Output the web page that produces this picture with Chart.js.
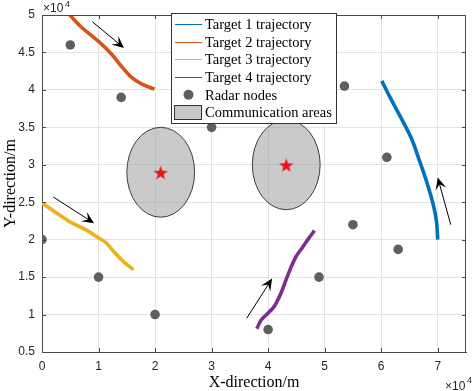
<!DOCTYPE html>
<html>
<head>
<meta charset="utf-8">
<script src="https://cdn.jsdelivr.net/npm/chart.js@4.4.1/dist/chart.umd.min.js"></script>
<style>
  body { margin: 0; background: #fff; }
  #wrap { width: 474px; height: 391px; }
</style>
</head>
<body>
<div id="wrap"><canvas id="chart" width="474" height="391"></canvas></div>
<script>
// values are in units of 10^4 m
var xTicks = [0, 1, 2, 3, 4, 5, 6, 7];
var yTicks = [0.5, 1, 1.5, 2, 2.5, 3, 3.5, 4, 4.5, 5];

var target1 = [[6.01, 4.12], [6.15, 3.91], [6.32, 3.67], [6.53, 3.36], [6.67, 3.07], [6.81, 2.76], [6.93, 2.44], [6.98, 2.23], [7.0, 2.0]];
var target2 = [[0.49, 5.0], [0.71, 4.83], [1.01, 4.64], [1.24, 4.47], [1.41, 4.31], [1.58, 4.17], [1.76, 4.08], [1.99, 4.01]];
var target3 = [[0, 2.49], [0.23, 2.37], [0.49, 2.24], [0.78, 2.13], [1.01, 2.02], [1.13, 1.96], [1.27, 1.84], [1.45, 1.70], [1.62, 1.6]];
var target4 = [[3.8, 0.81], [3.88, 0.93], [4.0, 1.02], [4.11, 1.11], [4.23, 1.29], [4.35, 1.53], [4.49, 1.77], [4.61, 1.9], [4.72, 2.02], [4.82, 2.12]];

var radarNodes = [[0.5, 4.6], [1.4, 3.9], [3.0, 3.5], [0, 2.0], [1.0, 1.5], [2.0, 1.0], [4.0, 0.8], [4.9, 1.5], [5.35, 4.05], [6.1, 3.1], [5.5, 2.2], [6.3, 1.87]];

var areaCenters = [[2.1, 2.9], [4.32, 3.0]];
var areaRadius = [0.6, 0.6];

// arrows: [x0, y0, x1, y1]
var arrows = [[0.89, 4.91, 1.45, 4.56], [0.2, 2.57, 0.92, 2.22], [3.62, 0.95, 4.07, 1.48], [7.23, 2.2, 7.0, 2.83]];

var legendLabels = ['Target 1 trajectory', 'Target 2 trajectory', 'Target 3 trajectory', 'Target 4 trajectory', 'Radar nodes', 'Communication areas'];
var targetColors = ['#0072BD', '#D95319', '#EDB120', '#7E2F8E'];

function pts(arr) {
  return arr.map(function(p){ return {x: p[0], y: p[1]}; });
}

// filled five point star used as point style
function makeStar(size, color) {
  var c = document.createElement('canvas');
  c.width = size; c.height = size;
  var g = c.getContext('2d');
  var r = size / 2, ri = r * 0.4;
  g.beginPath();
  for (var i = 0; i < 10; i++) {
    var rad = (i % 2 === 0) ? r : ri;
    var a = -Math.PI / 2 + i * Math.PI / 5;
    var px = r + rad * Math.cos(a), py = r + 1 + rad * Math.sin(a);
    if (i === 0) g.moveTo(px, py); else g.lineTo(px, py);
  }
  g.closePath();
  g.fillStyle = color;
  g.fill();
  return c;
}
var star = makeStar(15, '#E8141B');

var AXIS = '#4a4a4a';
var SERIF = '"Liberation Serif", "Times New Roman", serif';
var SANS = '"Liberation Sans", Arial, sans-serif';

var areasPlugin = {
  id: 'areas',
  beforeDatasetsDraw: function(chart) {
    var ctx = chart.ctx, xs = chart.scales.x, ys = chart.scales.y;
    ctx.save();
    areaCenters.forEach(function(c, i) {
      var cx = xs.getPixelForValue(c[0]), cy = ys.getPixelForValue(c[1]);
      var rx = xs.getPixelForValue(c[0] + areaRadius[i]) - cx;
      var ry = cy - ys.getPixelForValue(c[1] + areaRadius[i]);
      ctx.beginPath();
      ctx.ellipse(cx, cy, rx, ry, 0, 0, Math.PI * 2);
      ctx.fillStyle = 'rgba(160,158,158,0.55)';
      ctx.fill();
      ctx.lineWidth = 1;
      ctx.strokeStyle = '#3c3c3c';
      ctx.stroke();
    });
    ctx.restore();
  },
  afterDatasetsDraw: function(chart) {
    var ctx = chart.ctx, xs = chart.scales.x, ys = chart.scales.y;
    ctx.save();
    ctx.strokeStyle = '#000';
    ctx.fillStyle = '#000';
    ctx.lineWidth = 1;
    arrows.forEach(function(a) {
      var x0 = xs.getPixelForValue(a[0]), y0 = ys.getPixelForValue(a[1]);
      var x1 = xs.getPixelForValue(a[2]), y1 = ys.getPixelForValue(a[3]);
      var ang = Math.atan2(y1 - y0, x1 - x0);
      var L = 12, W = 5.5;
      ctx.beginPath();
      ctx.moveTo(x0, y0);
      ctx.lineTo(x1 - Math.cos(ang) * 6, y1 - Math.sin(ang) * 6);
      ctx.stroke();
      ctx.beginPath();
      ctx.moveTo(x1, y1);
      ctx.lineTo(x1 - L * Math.cos(ang) + W * Math.sin(ang), y1 - L * Math.sin(ang) - W * Math.cos(ang));
      ctx.lineTo(x1 - 7 * Math.cos(ang), y1 - 7 * Math.sin(ang));
      ctx.lineTo(x1 - L * Math.cos(ang) - W * Math.sin(ang), y1 - L * Math.sin(ang) + W * Math.cos(ang));
      ctx.closePath();
      ctx.fill();
    });
    ctx.restore();
  },
  afterDraw: function(chart) {
    var ctx = chart.ctx, a = chart.chartArea, xs = chart.scales.x, ys = chart.scales.y;
    ctx.save();
    // box and inward ticks
    ctx.strokeStyle = AXIS;
    ctx.lineWidth = 1;
    ctx.beginPath();
    ctx.moveTo(a.left, a.top + 0.5); ctx.lineTo(a.right, a.top + 0.5);
    ctx.moveTo(a.right - 0.5, a.top); ctx.lineTo(a.right - 0.5, a.bottom);
    xTicks.forEach(function(v) {
      var px = Math.round(xs.getPixelForValue(v)) + 0.5;
      ctx.moveTo(px, a.bottom); ctx.lineTo(px, a.bottom - 4);
      ctx.moveTo(px, a.top); ctx.lineTo(px, a.top + 4);
    });
    yTicks.forEach(function(v) {
      var py = Math.round(ys.getPixelForValue(v)) + 0.5;
      ctx.moveTo(a.left, py); ctx.lineTo(a.left + 4, py);
      ctx.moveTo(a.right, py); ctx.lineTo(a.right - 4, py);
    });
    ctx.stroke();

    // exponent labels
    ctx.fillStyle = '#262626';
    ctx.textBaseline = 'alphabetic';
    ctx.textAlign = 'left';
    ctx.font = '12px ' + SANS;
    ctx.fillText('\u00d710', a.left + 1, 12);
    ctx.fillText('\u00d710', 445, 390);
    ctx.font = '9px ' + SANS;
    ctx.fillText('4', a.left + 23, 7);
    ctx.fillText('4', 467, 383);

    // axis titles
    ctx.fillStyle = '#000';
    ctx.font = '16px ' + SERIF;
    ctx.textAlign = 'center';
    ctx.textBaseline = 'middle';
    ctx.fillText('X-direction/m', (a.left + a.right) / 2, 383);
    ctx.translate(11, (a.top + a.bottom) / 2);
    ctx.rotate(-Math.PI / 2);
    ctx.fillText('Y-direction/m', 0, 0);
    ctx.restore();

    // legend
    ctx.save();
    var bx = 171, by = 13, bw = 165, bh = 110, rowH = 17.7;
    ctx.fillStyle = '#fff';
    ctx.fillRect(bx, by, bw, bh);
    ctx.strokeStyle = '#333';
    ctx.lineWidth = 1;
    ctx.strokeRect(bx + 0.5, by + 0.5, bw, bh);
    ctx.font = '14.5px ' + SERIF;
    ctx.textAlign = 'left';
    ctx.textBaseline = 'middle';
    legendLabels.forEach(function(label, i) {
      var cy = by + 11 + i * rowH;
      if (i < 4) {
        ctx.strokeStyle = targetColors[i];
        ctx.lineWidth = 1;
        ctx.beginPath();
        ctx.moveTo(175, Math.round(cy) + 0.5); ctx.lineTo(202, Math.round(cy) + 0.5);
        ctx.stroke();
      } else if (i === 4) {
        ctx.fillStyle = '#5f5f5f';
        ctx.beginPath();
        ctx.arc(188.5, cy, 5, 0, Math.PI * 2);
        ctx.fill();
      } else {
        ctx.fillStyle = '#c9c8c8';
        ctx.fillRect(174.5, cy - 7, 27, 14);
        ctx.strokeStyle = '#333';
        ctx.strokeRect(174.5, cy - 7, 27, 14);
      }
      ctx.fillStyle = '#000';
      ctx.fillText(label, 205, cy + 1);
    });
    ctx.restore();
  }
};

var lineSet = function(data, color) {
  return {
    data: pts(data), showLine: true, borderColor: color, backgroundColor: color,
    borderWidth: 3.6, pointRadius: 0, tension: 0.35, borderCapStyle: 'butt', borderJoinStyle: 'round'
  };
};

new Chart(document.getElementById('chart'), {
  type: 'scatter',
  data: {
    datasets: [
      lineSet(target1, targetColors[0]),
      lineSet(target2, targetColors[1]),
      lineSet(target3, targetColors[2]),
      lineSet(target4, targetColors[3]),
      { data: pts(radarNodes), pointRadius: 4.8, backgroundColor: '#5f5f5f', borderWidth: 0, pointHoverRadius: 4.8 },
      { data: pts(areaCenters), pointStyle: star, pointRadius: 7 }
    ]
  },
  options: {
    responsive: false,
    animation: false,
    devicePixelRatio: 1,
    layout: { padding: { top: 15, right: 1, left: 0, bottom: 0 } },
    plugins: { legend: { display: false }, tooltip: { enabled: false } },
    scales: {
      x: {
        type: 'linear', min: 0, max: 7.5,
        afterBuildTicks: function(s) { s.ticks = xTicks.map(function(v){ return {value: v}; }); },
        afterFit: function(s) { s.height = 39; },
        grid: { color: '#e3e3e3', drawTicks: false },
        border: { color: AXIS },
        ticks: { padding: 7, color: '#262626', font: { family: SANS, size: 12 }, maxRotation: 0,
          callback: function(v) { return String(v); } }
      },
      y: {
        type: 'linear', min: 0.5, max: 5,
        afterBuildTicks: function(s) { s.ticks = yTicks.map(function(v){ return {value: v}; }); },
        afterFit: function(s) { s.width = 42; },
        grid: { color: '#e3e3e3', drawTicks: false },
        border: { color: AXIS },
        ticks: { padding: 7, color: '#262626', font: { family: SANS, size: 12 },
          callback: function(v) { return String(v); } }
      }
    }
  },
  plugins: [areasPlugin]
});
</script>
</body>
</html>
